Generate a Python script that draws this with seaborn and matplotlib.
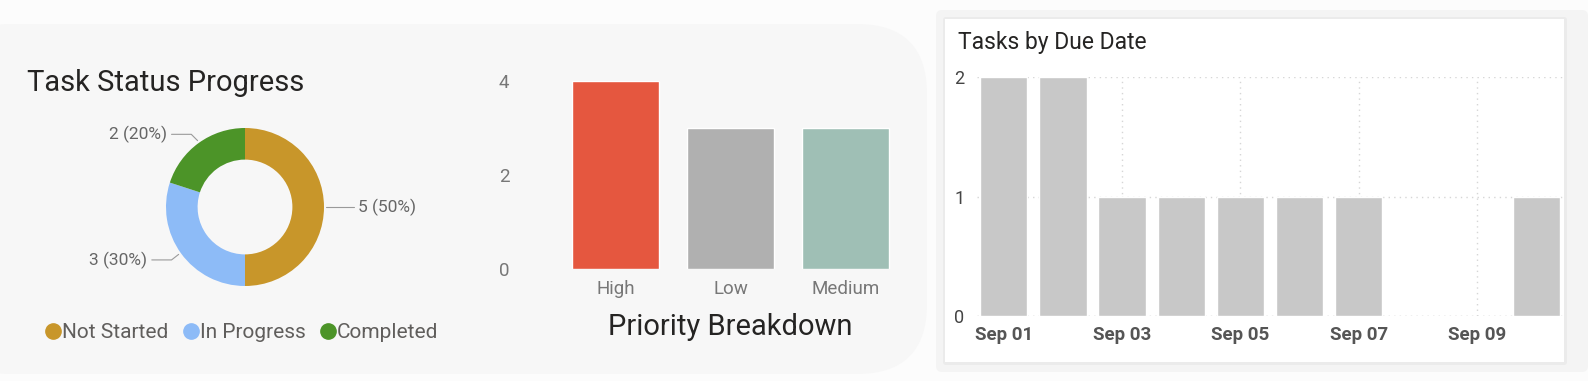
import matplotlib
matplotlib.use("Agg")
import matplotlib.pyplot as plt
import seaborn as sns
import pandas as pd
from matplotlib.patches import FancyBboxPatch
from matplotlib.lines import Line2D

sns.set_theme(style="white")
plt.rcParams["font.family"] = ["Roboto", "DejaVu Sans"]

# data
status_labels = ["Not Started", "In Progress", "Completed"]
status_counts = [5, 3, 2]
status_colors = ["#C8962A", "#8DBBF7", "#4C9428"]

priority_labels = ["High", "Low", "Medium"]
priority_counts = [4, 3, 3]
priority_colors = ["#E5573F", "#B0B0B0", "#9FBFB5"]

due_days = [1, 2, 3, 4, 5, 6, 7, 10]
due_counts = [2, 2, 1, 1, 1, 1, 1, 1]
date_ticks = [1, 3, 5, 7, 9]
date_tick_labels = ["Sep 01", "Sep 03", "Sep 05", "Sep 07", "Sep 09"]

W, H = 1588, 381


def box(x0, y0, x1, y1):
    # pixel box (top-down) -> figure fraction
    return [x0 / W, 1 - y1 / H, (x1 - x0) / W, (y1 - y0) / H]


fig = plt.figure(figsize=(W / 100, H / 100), dpi=100)
fig.patch.set_facecolor("#fcfcfc")

# background panels
bg = fig.add_axes([0, 0, 1, 1], zorder=-1)
bg.set_xlim(0, W)
bg.set_ylim(H, 0)
bg.axis("off")
bg.add_patch(FancyBboxPatch((-60, 24), 987, 350, boxstyle="round,pad=0,rounding_size=70",
                            fc="#f7f7f7", ec="none"))
bg.add_patch(FancyBboxPatch((936, 10), 652, 362, boxstyle="round,pad=0,rounding_size=6",
                            fc="#f4f4f4", ec="none"))
bg.add_patch(FancyBboxPatch((943, 17), 624, 348, boxstyle="round,pad=0,rounding_size=3",
                            fc="#ebebeb", ec="none"))
bg.add_patch(FancyBboxPatch((945, 19), 619, 343, boxstyle="square,pad=0", fc="white", ec="none"))

# donut
cx, cy, R = 245, 207, 79
ax1 = fig.add_axes(box(cx - R, cy - R, cx + R, cy + R))
ax1.pie(status_counts, colors=status_colors, startangle=90, counterclock=False,
        wedgeprops=dict(width=0.4, edgecolor="none"))
ax1.set_xlim(-1, 1)
ax1.set_ylim(-1, 1)
ax1.set_aspect("equal")
ax1.axis("off")
total = sum(status_counts)
lab = [f"{c} ({c / total:.0%})" for c in status_counts]
lc = "#9a9a9a"
ax1.plot([1.02, 1.38], [0, 0], color=lc, lw=0.8, clip_on=False)
ax1.text(1.43, 0, lab[0], ha="left", va="center", fontsize=12.5, color="#666666")
ax1.plot([-0.84, -0.93, -1.18], [-0.6, -0.67, -0.67], color=lc, lw=0.8, clip_on=False)
ax1.text(-1.24, -0.67, lab[1], ha="right", va="center", fontsize=12.5, color="#666666")
ax1.plot([-0.6, -0.68, -0.93], [0.84, 0.92, 0.92], color=lc, lw=0.8, clip_on=False)
ax1.text(-0.99, 0.92, lab[2], ha="right", va="center", fontsize=12.5, color="#666666")

fig.text(27 / W, 1 - 83 / H, "Task Status Progress", fontsize=21, color="#252423",
         ha="left", va="center")
handles = [Line2D([], [], marker="o", ls="", ms=11, color=c) for c in status_colors]
fig.legend(handles, status_labels, loc="center", bbox_to_anchor=(241 / W, 1 - 333 / H),
           ncol=3, frameon=False, fontsize=15, handletextpad=0.0, columnspacing=0.6,
           labelcolor="#605E5C", handlelength=0.9)

# priority bars
ax2 = fig.add_axes(box(558, 81, 903, 269))
pdf = pd.DataFrame({"Priority": priority_labels, "Count": priority_counts})
sns.barplot(data=pdf, x="Priority", y="Count", hue="Priority", palette=priority_colors,
            width=0.76, legend=False, ax=ax2, saturation=1)
ax2.set_xlim(-0.5, 2.5)
ax2.set_ylim(0, 4)
ax2.set_yticks([0, 2, 4])
ax2.set_facecolor("none")
sns.despine(ax=ax2, left=True, bottom=True)
ax2.tick_params(axis="y", length=0, pad=35, labelsize=13.5, labelcolor="#777777")
ax2.tick_params(axis="x", length=0, pad=8, labelsize=13.5, labelcolor="#777777")
ax2.set_ylabel("")
ax2.set_xlabel("Priority Breakdown", fontsize=21, color="#252423", labelpad=11)

# tasks by due date
ax3 = fig.add_axes(box(977, 77, 1563, 316))
ddf = pd.DataFrame({"Day": due_days, "Count": due_counts})
sns.barplot(data=ddf, x="Day", y="Count", native_scale=True, color="#C8C8C8",
            saturation=1, width=0.8, ax=ax3, zorder=3)
ax3.set_xlim(0.55, 10.45)
ax3.set_ylim(0, 2)
ax3.set_yticks([0, 1, 2])
ax3.set_xticks(date_ticks)
ax3.set_xticklabels(date_tick_labels, fontweight="bold")
ax3.set_facecolor("none")
for s in ax3.spines.values():
    s.set_visible(False)
ax3.grid(True, color="#d6d6d6", linestyle=(0, (1, 3)), lw=1, zorder=0)
ax3.axhline(0, color="#d6d6d6", linestyle=(0, (1, 3)), lw=1, zorder=0)
ax3.tick_params(axis="y", length=0, pad=9, labelsize=13, labelcolor="#444444")
ax3.tick_params(axis="x", length=0, pad=7, labelsize=13.5, labelcolor="#555555")
ax3.set_xlabel("")
ax3.set_ylabel("")
fig.text(958 / W, 1 - 43 / H, "Tasks by Due Date", fontsize=16.5, color="#252423",
         ha="left", va="center")

fig.savefig("out.png", dpi=100)
